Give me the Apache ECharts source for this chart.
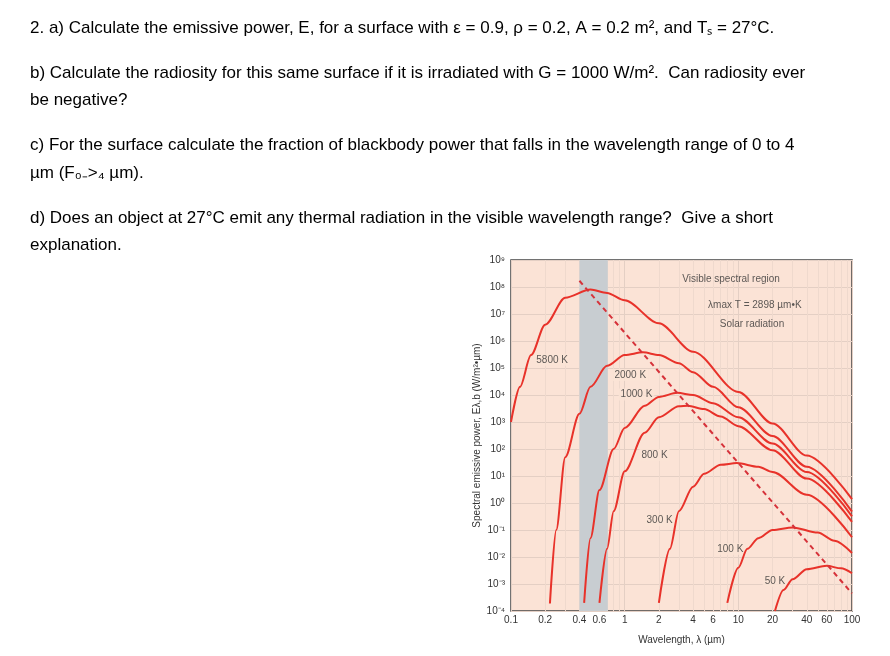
<!DOCTYPE html><html><head><meta charset="utf-8">
<script src="https://cdn.jsdelivr.net/npm/echarts@6/dist/echarts.min.js"></script>
<style>body{margin:0;background:#fff}#c{width:890px;height:656px}</style></head><body><div id="c"></div>
<script>
const xTicks=[0.1,0.2,0.4,0.6,1,2,4,6,10,20,40,60,100];
const c5800=[[0.1,1e3],[0.12,2e4],[0.15,3e5],[0.2,4e6],[0.3,4e7],[0.5,8e7],[0.7,6e7],[1,3.2e7],[2,4.5e6],[4,4e5],[10,1.3e4],[20,880],[40,57],[100,1.4]];
const c2000=[[0.22,1.9e-4],[0.25,0.1],[0.3,50],[0.4,2e3],[0.5,2e4],[0.7,1.2e5],[1,3e5],[1.45,3.8e5],[2,3e5],[3,1.5e5],[4,7e4],[6,2e4],[10,3.5e3],[20,300],[40,22],[100,0.48]];
const c1000=[[0.44,2e-4],[0.5,0.05],[0.6,3],[0.8,100],[1,600],[1.5,4e3],[2,8.5e3],[2.9,1.2e4],[4,1e4],[6,5e3],[10,1.5e3],[20,160],[40,14],[100,0.32]];
const c800=[[0.6,2e-4],[0.7,0.02],[0.8,0.5],[1,15],[1.5,400],[2,1.5e3],[3,3.8e3],[3.6,4e3],[5,3e3],[7,1.6e3],[10,700],[20,90],[40,8],[100,0.2]];
const c300=[[2,2e-4],[2.5,0.02],[3,0.5],[4,4],[5,12],[7,26],[9.7,30],[15,22],[20,14],[40,2],[100,0.054]];
const c100=[[8,2e-4],[10,4e-3],[12,0.02],[15,0.05],[20,0.1],[30,0.125],[50,0.08],[70,0.04],[100,0.014]];
const c50=[[21,1e-4],[25,6e-4],[30,1.5e-3],[40,3.5e-3],[60,4.7e-3],[80,3.8e-3],[100,2.5e-3]];
const wien=[[0.4,1.7e8],[100,4.5e-4]];
const curveLabels=[["5800 K",0.23,2e5],["2000 K",1.12,5.5e4],["1000 K",1.27,1.05e4],["800 K",1.83,60],["300 K",2.03,0.23],["100 K",8.5,0.02],["50 K",21,1.3e-3]];
const notes=[["Visible spectral region",2.9,2e8],["λmax T = 2898 µm•K",4.9,2.1e7],["Solar radiation",6.2,4e6]];
const sup=s=>String(s).split('').map(ch=>({'-':'⁻','0':'⁰','1':'¹','2':'²','3':'³','4':'⁴','5':'⁵','6':'⁶','7':'⁷','8':'⁸','9':'⁹'}[ch])).join('');
const red='#e8322a';
const curves=[c5800,c2000,c1000,c800,c300,c100,c50];
const series=curves.map(d=>({type:'line',data:d,smooth:0.3,smoothMonotone:'x',showSymbol:false,lineStyle:{color:red,width:2},silent:true}));
series.push({type:'line',data:wien,showSymbol:false,lineStyle:{color:'#d6323a',width:2,type:[5,4]},
 markArea:{silent:true,itemStyle:{color:'#c8cdd1'},data:[[{xAxis:0.4},{xAxis:0.71}]]}});
series.push({type:'scatter',symbolSize:0,data:curveLabels.map(l=>({value:[l[1],l[2]],name:l[0]})),
 label:{show:true,formatter:p=>p.name,position:'inside',color:'#333',fontSize:10,backgroundColor:'#fbe3d6',padding:[1,2]}});
series.push({type:'scatter',symbolSize:0,data:notes.map(l=>({value:[l[1],l[2]],name:l[0]})),
 label:{show:true,formatter:p=>p.name,position:'right',color:'#333',fontSize:10}});
const T=(t,y,x)=>({type:'text',left:x||30,top:y,style:{text:t,font:'17px "Liberation Sans"',fill:'#000'}});
const opt={animation:false,
 graphic:[T('2. a) Calculate the emissive power, E, for a surface with ε = 0.9, ρ = 0.2, A = 0.2 m², and Tₛ = 27°C.',20),
 T('b) Calculate the radiosity for this same surface if it is irradiated with G = 1000 W/m².  Can radiosity ever',65),
 T('be negative?',92),
 T('c) For the surface calculate the fraction of blackbody power that falls in the wavelength range of 0 to 4',137),
 T('µm (F₀₋>₄ µm).',165),
 T('d) Does an object at 27°C emit any thermal radiation in the visible wavelength range?  Give a short',210),
 T('explanation.',237)],
 grid:{left:511,right:38,top:260,bottom:45,show:true,backgroundColor:'#fbe3d6',borderColor:'#444',borderWidth:1.5},
 xAxis:{type:'log',min:0.1,max:100,logBase:10,name:'Wavelength, λ (µm)',nameLocation:'middle',nameGap:24,nameTextStyle:{fontSize:10,color:'#333'},
  axisLine:{show:false},axisTick:{show:false},
  axisLabel:{fontSize:10,color:'#333',margin:4,customValues:xTicks,formatter:v=>String(+v.toPrecision(2))},
  splitLine:{show:true,lineStyle:{color:'#e4cfc4'}},minorTick:{show:false,splitNumber:9},minorSplitLine:{show:true,lineStyle:{color:'#efd9cd'}}},
 yAxis:{type:'log',min:1e-4,max:1e9,logBase:10,interval:1,name:'Spectral emissive power, Eλ,b (W/m²•µm)',nameLocation:'middle',nameGap:26,nameTextStyle:{fontSize:10,color:'#333'},
  axisLine:{show:false},axisTick:{show:false},
  axisLabel:{fontSize:10,color:'#333',margin:6,formatter:v=>'10'+sup(Math.round(Math.log10(v)))},
  splitLine:{show:true,lineStyle:{color:'#e4cfc4'}}},
 series};
echarts.init(document.getElementById('c')).setOption(opt);
</script></body></html>
